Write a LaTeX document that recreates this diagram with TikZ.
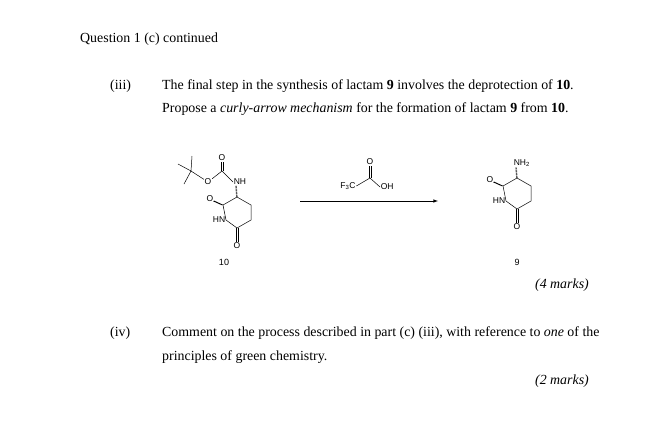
\documentclass[tikz,border=0pt]{standalone}
\usepackage{fontspec}
\setmainfont{Liberation Serif}
\newfontfamily\chem{Liberation Sans}
\begin{document}
\begin{tikzpicture}[x=1pt,y=-1pt,
  txt/.style={anchor=base west,inner sep=0pt,font=\fontsize{13.9}{16}\selectfont},
  atm/.style={inner sep=0.6pt,font=\chem\fontsize{8.5}{9}\selectfont},
  bd/.style={line width=0.5pt},
  lab/.style={font=\chem\fontsize{9}{10}\selectfont}]
\useasboundingbox (0,0) rectangle (671,421);
\node[txt] (q) at (80,42) {Question 1 (c) continued};
\node[txt] (i3) at (110,89) {(iii)};
\node[txt] (l1) at (162,89) {The final step in the synthesis of lactam \textbf{9} involves the deprotection of \textbf{10}.};
\node[txt] (l2) at (162,112) {Propose a \textit{curly-arrow mechanism} for the formation of lactam \textbf{9} from \textbf{10}.};
\node[txt,anchor=base east] (m4) at (589,288) {\textit{(4 marks)}};
\node[txt] (i4) at (110,336) {(iv)};
\node[txt] (l3) at (162,336) {Comment on the process described in part (c) (iii), with reference to \textit{one} of the};
\node[txt] (l4) at (162,360) {principles of green chemistry.};
\node[txt,anchor=base east] (m2) at (589,384) {\textit{(2 marks)}};
% compound 10
\coordinate (q0) at (191,171);
\coordinate (m1) at (178,164);
\coordinate (m2c) at (192,156);
\coordinate (m3) at (184,184);
\node[atm] (o1) at (208,182) {O};
\coordinate (cc) at (222,171);
\node[atm] (o2) at (222,158) {O};
\node[atm,anchor=west] (nh) at (233,182) {NH};
\coordinate (c3) at (237,197);
\coordinate (c2) at (223,205);
\node[atm] (o3) at (210,199) {O};
\node[atm,anchor=east] (n1) at (226,220) {HN};
\coordinate (c6) at (237,228);
\node[atm] (o4) at (237,246) {O};
\coordinate (c5) at (251,220);
\coordinate (c4) at (251,205);
\draw[bd] (m1)--(q0) (m2c)--(q0) (m3)--(q0) (q0)--(o1) (o1)--(cc) (cc)--(nh.west);
\draw[bd] ([xshift=-1pt]cc)--([xshift=-1pt]o2.south) ([xshift=1pt]cc)--([xshift=1pt]o2.south);
\draw[dash pattern=on 0.6pt off 0.9pt,line width=1.5pt] (c3)--([xshift=3pt]nh.south west);
\draw[bd] (c3)--(c2)--(n1.east) (n1.east)--(c6) (c3)--(c4)--(c5)--(c6);
\draw[bd] (c2)--(o3) ([xshift=-1pt]c2)--([xshift=-1pt,yshift=-2pt]o3.east);
\draw[bd] ([xshift=-1pt]c6)--([xshift=-1pt]o4.north) ([xshift=1pt]c6)--([xshift=1pt]o4.north);
\node[lab] (n10) at (224,262) {10};
% arrow + TFA
\coordinate (a1) at (300,201);
\coordinate (a2) at (438,201);
\draw[line width=0.6pt,-latex] (a1)--(a2);
\node[atm] (f3c) at (348,186) {F\textsubscript{3}C};
\coordinate (tc) at (370,178);
\node[atm] (to) at (370,162) {O};
\node[atm,anchor=west] (toh) at (380,187) {OH};
\draw[bd] (f3c.east)--(tc)--(toh.west);
\draw[bd] ([xshift=-1pt]tc)--([xshift=-1pt]to.south) ([xshift=1pt]tc)--([xshift=1pt]to.south);
% compound 9
\begin{scope}[shift={(280,-19)}]
\node[atm,anchor=west] (nh2) at (233,182) {NH\textsubscript{2}};
\coordinate (d3) at (237,197);
\coordinate (d2) at (223,205);
\node[atm] (p3) at (210,199) {O};
\node[atm,anchor=east] (dn1) at (226,220) {HN};
\coordinate (d6) at (237,228);
\node[atm] (p4) at (237,246) {O};
\coordinate (d5) at (251,220);
\coordinate (d4) at (251,205);
\draw[dash pattern=on 0.6pt off 0.9pt,line width=1.5pt] (d3)--([xshift=3pt]nh2.south west);
\draw[bd] (d3)--(d2)--(dn1.east) (dn1.east)--(d6) (d3)--(d4)--(d5)--(d6);
\draw[bd] (d2)--(p3) ([xshift=-1pt]d2)--([xshift=-1pt,yshift=-2pt]p3.east);
\draw[bd] ([xshift=-1pt]d6)--([xshift=-1pt]p4.north) ([xshift=1pt]d6)--([xshift=1pt]p4.north);
\end{scope}
\node[lab] (n9) at (517,262) {9};
\end{tikzpicture}
\end{document}
